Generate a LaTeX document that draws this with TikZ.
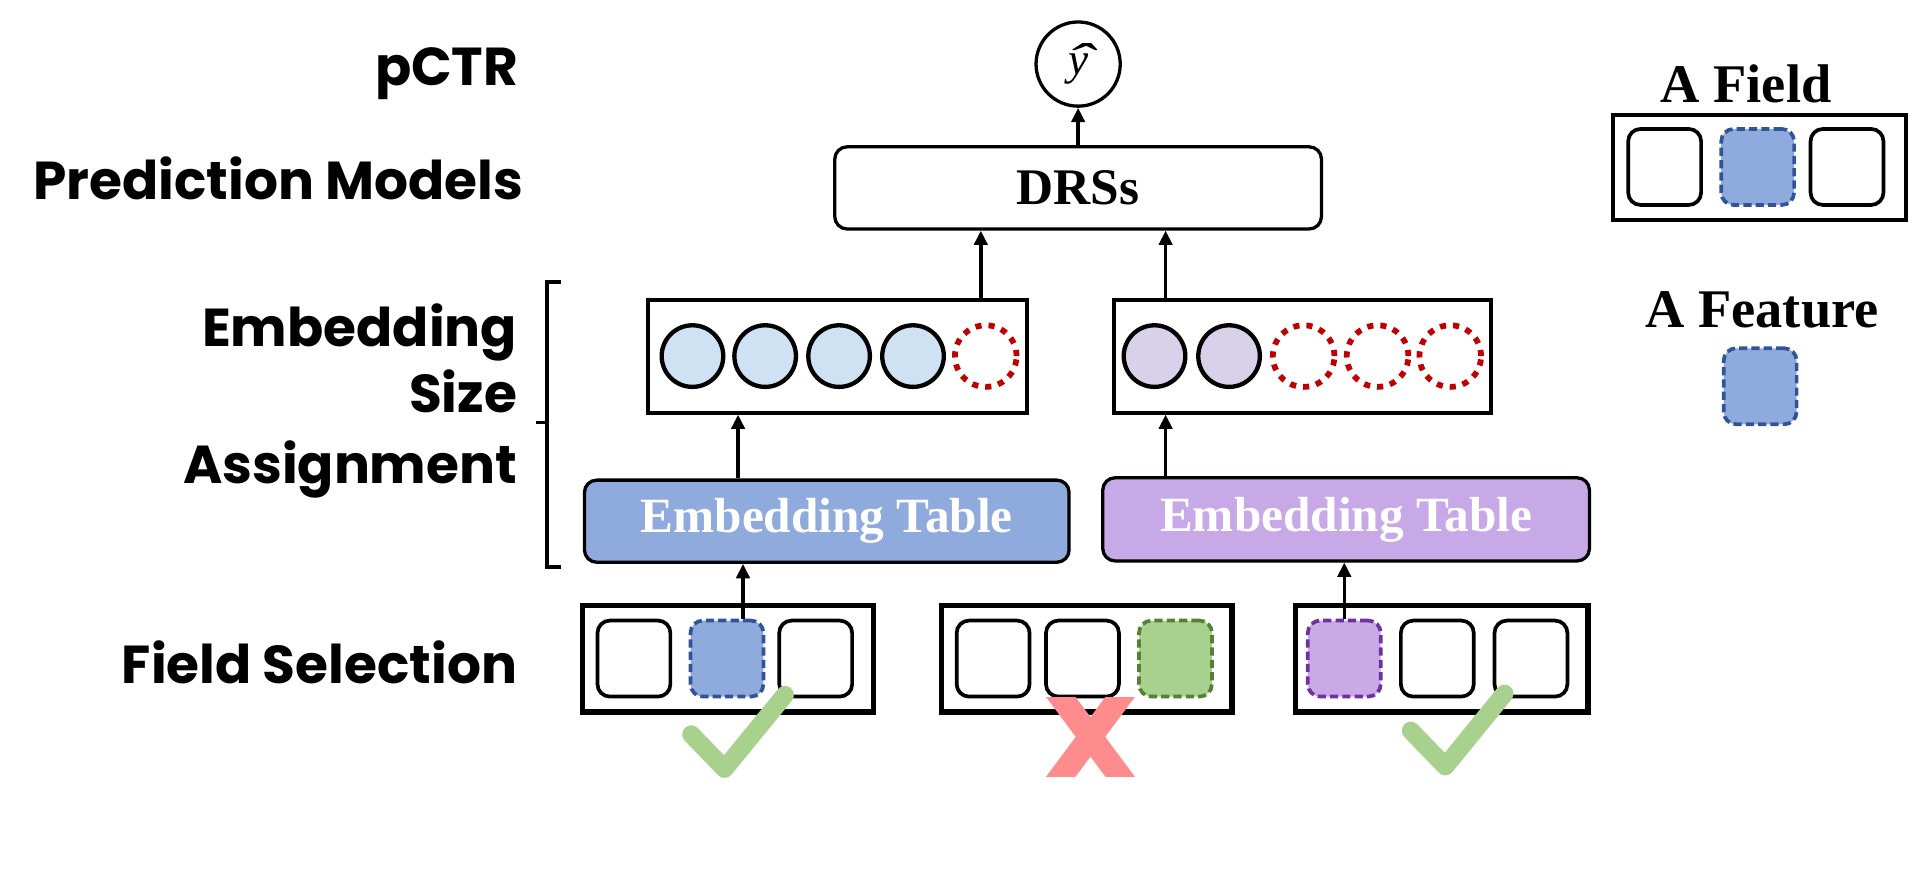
\documentclass[tikz,border=0pt]{standalone}
\usepackage{fontspec}
\newfontfamily\labfont{Poppins}
\newfontfamily\serif{Liberation Serif}
\usetikzlibrary{arrows.meta}
\definecolor{embblue}{HTML}{8FAADC}
\definecolor{embpurple}{HTML}{C6A9E6}
\definecolor{featblue}{HTML}{8FAADC}
\definecolor{featblueD}{HTML}{2F5597}
\definecolor{featgreen}{HTML}{A9D18E}
\definecolor{featgreenD}{HTML}{548235}
\definecolor{featpurple}{HTML}{C9A9E6}
\definecolor{featpurpleD}{HTML}{7030A0}
\definecolor{circblue}{HTML}{CFE2F3}
\definecolor{circpurple}{HTML}{D9D0EA}
\definecolor{darkred}{HTML}{C00000}
\definecolor{checkgreen}{HTML}{A9D18E}
\definecolor{crossred}{HTML}{FF8C8C}
\newcommand{\widehaty}{{\setbox0\hbox{y}\rlap{\hbox to \wd0{\hss\kern0.08em\raisebox{-0.05em}{\scalebox{1.9}[1.05]{ˆ}}\hss}}y}}
\begin{document}
\begin{tikzpicture}[x=0.6pt,y=-0.6pt,
  lab/.style={font=\labfont\bfseries\fontsize{26}{30}\selectfont, anchor=base east, inner sep=0},
  ttl/.style={font=\serif\bfseries\fontsize{26.5}{30}\selectfont, anchor=base, inner sep=0},
  box/.style={draw, line width=2pt, inner sep=0},
  cell/.style={draw, line width=1.8pt, rounded corners=6pt, minimum width=35.5pt, minimum height=37pt, inner sep=0},
  feat/.style={cell, dash pattern=on 4pt off 2pt},
  emb/.style={draw, line width=1.6pt, rounded corners=6pt, inner sep=0, text=white,
    font=\serif\bfseries\fontsize{24}{28}\selectfont},
  vfull/.style={circle, draw, line width=2.1pt, minimum size=30pt, inner sep=0},
  vdot/.style={circle, draw=darkred, line width=2.8pt, dash pattern=on 3pt off 3.4pt, minimum size=30pt, inner sep=0},
  arr/.style={-{Triangle[length=7pt,width=6.5pt]}, line width=1.7pt},
  tick/.style={line width=8.8pt, line cap=round, line join=round, draw=checkgreen}
]
\useasboundingbox (0,0) rectangle (1568,714);

% left labels
\node[lab] (l1) at (421,69) {pCTR};
\node[lab] (l2) at (425,162) {Prediction Models};
\node[lab] (l3) at (420,281) {Embedding};
\node[lab] (l4) at (420,335) {Size};
\node[lab] (l5) at (420,392) {Assignment};
\node[lab] (l6) at (420,554.5) {Field Selection};

% bracket
\draw[line width=1.8pt] (455,229) -| (444,460) -- (455,460);
\draw[line width=1.8pt] (444,343) -- (435,343);

% output
\node[circle, draw, line width=1.6pt, minimum size=41pt, inner sep=0, font=\serif\itshape\fontsize{22}{24}\selectfont] (yhat) at (875,52)
  {\widehaty};
\node[box, line width=1.6pt, rounded corners=6pt, minimum width=237pt, minimum height=40pt,
  font=\serif\bfseries\fontsize{25}{28}\selectfont] (drs) at (875,152.5) {DRSs};

% embedding vectors
\node[box, minimum width=184.5pt, minimum height=55pt] (vecL) at (680,289) {};
\node[box, minimum width=183.5pt, minimum height=55pt] (vecR) at (1057,289) {};
\node[vfull, fill=circblue] (cL1) at (562,289) {};
\node[vfull, fill=circblue] (cL2) at (621,289) {};
\node[vfull, fill=circblue] (cL3) at (681,289) {};
\node[vfull, fill=circblue] (cL4) at (741,289) {};
\node[vdot] (cL5) at (800,289) {};
\node[vfull, fill=circpurple] (cR1) at (937,289) {};
\node[vfull, fill=circpurple] (cR2) at (997.5,289) {};
\node[vdot] (cR3) at (1058,289) {};
\node[vdot] (cR4) at (1118,289) {};
\node[vdot] (cR5) at (1177,289) {};

% embedding tables
\node[emb, fill=embblue, minimum width=236pt, minimum height=40pt] (embL) at (671,423) {Embedding Table};
\node[emb, fill=embpurple, minimum width=237pt, minimum height=40.5pt] (embR) at (1092.5,421.5) {Embedding Table};

% fields
\node[box, line width=2.5pt, minimum width=141.5pt, minimum height=52pt] (F1) at (591,534.5) {};
\node[box, line width=2.5pt, minimum width=141.5pt, minimum height=52pt] (F2) at (882,534.5) {};
\node[box, line width=2.5pt, minimum width=142.5pt, minimum height=52pt] (F3) at (1170,534.5) {};
\node[cell] (f11) at (514.5,534.5) {};
\node[feat, fill=featblue, draw=featblueD] (f12) at (590,534.5) {};
\node[cell] (f13) at (662,534.5) {};
\node[cell] (f21) at (806,534.5) {};
\node[cell] (f22) at (878.5,534.5) {};
\node[feat, fill=featgreen, draw=featgreenD] (f23) at (954,534.5) {};
\node[feat, fill=featpurple, draw=featpurpleD] (f31) at (1091,534.5) {};
\node[cell] (f32) at (1166.5,534.5) {};
\node[cell] (f33) at (1242.5,534.5) {};

% connectors
\coordinate (xL) at (796,0);
\coordinate (xR) at (946,0);
\coordinate (xE) at (599,0);
\coordinate (xF) at (603,0);
\draw[arr] (drs.north) -- (yhat.south);
\draw[arr] (xL |- vecL.north) -- (xL |- drs.south);
\draw[arr] (xR |- vecR.north) -- (xR |- drs.south);
\draw[arr] (xE |- embL.north) -- (xE |- vecL.south);
\draw[arr] (xR |- embR.north) -- (xR |- vecR.south);
\draw[arr] (xF |- f12.north) -- (xF |- embL.south);
\draw[arr] (f31.north) -- (f31 |- embR.south);

% marks
\coordinate (k1a) at (561,596); \coordinate (k1b) at (588,624); \coordinate (k1c) at (637,564);
\coordinate (k3a) at (1145,593); \coordinate (k3b) at (1173,622); \coordinate (k3c) at (1221,563);
\draw[tick] (k1a) -- (k1b) -- (k1c);
\draw[tick] (k3a) -- (k3b) -- (k3c);
\begin{scope}
\clip (840,566) rectangle (930,630);
\draw[line width=11.5pt, draw=crossred] (853,555) -- (917,641);
\draw[line width=11.5pt, draw=crossred] (917,555) -- (853,641);
\end{scope}

% legend
\node[ttl] (tf) at (1417,83) {A Field};
\node[box, line width=2.2pt, minimum width=142.5pt, minimum height=51pt] (LF) at (1428,136) {};
\node[cell] (lf1) at (1351,135.5) {};
\node[feat, fill=featblue, draw=featblueD] (lf2) at (1426.5,135.5) {};
\node[cell] (lf3) at (1499,135.5) {};
\node[ttl] (tfe) at (1430,266) {A Feature};
\node[feat, fill=featblue, draw=featblueD] (lfe) at (1428.5,313.5) {};
\end{tikzpicture}
\end{document}
